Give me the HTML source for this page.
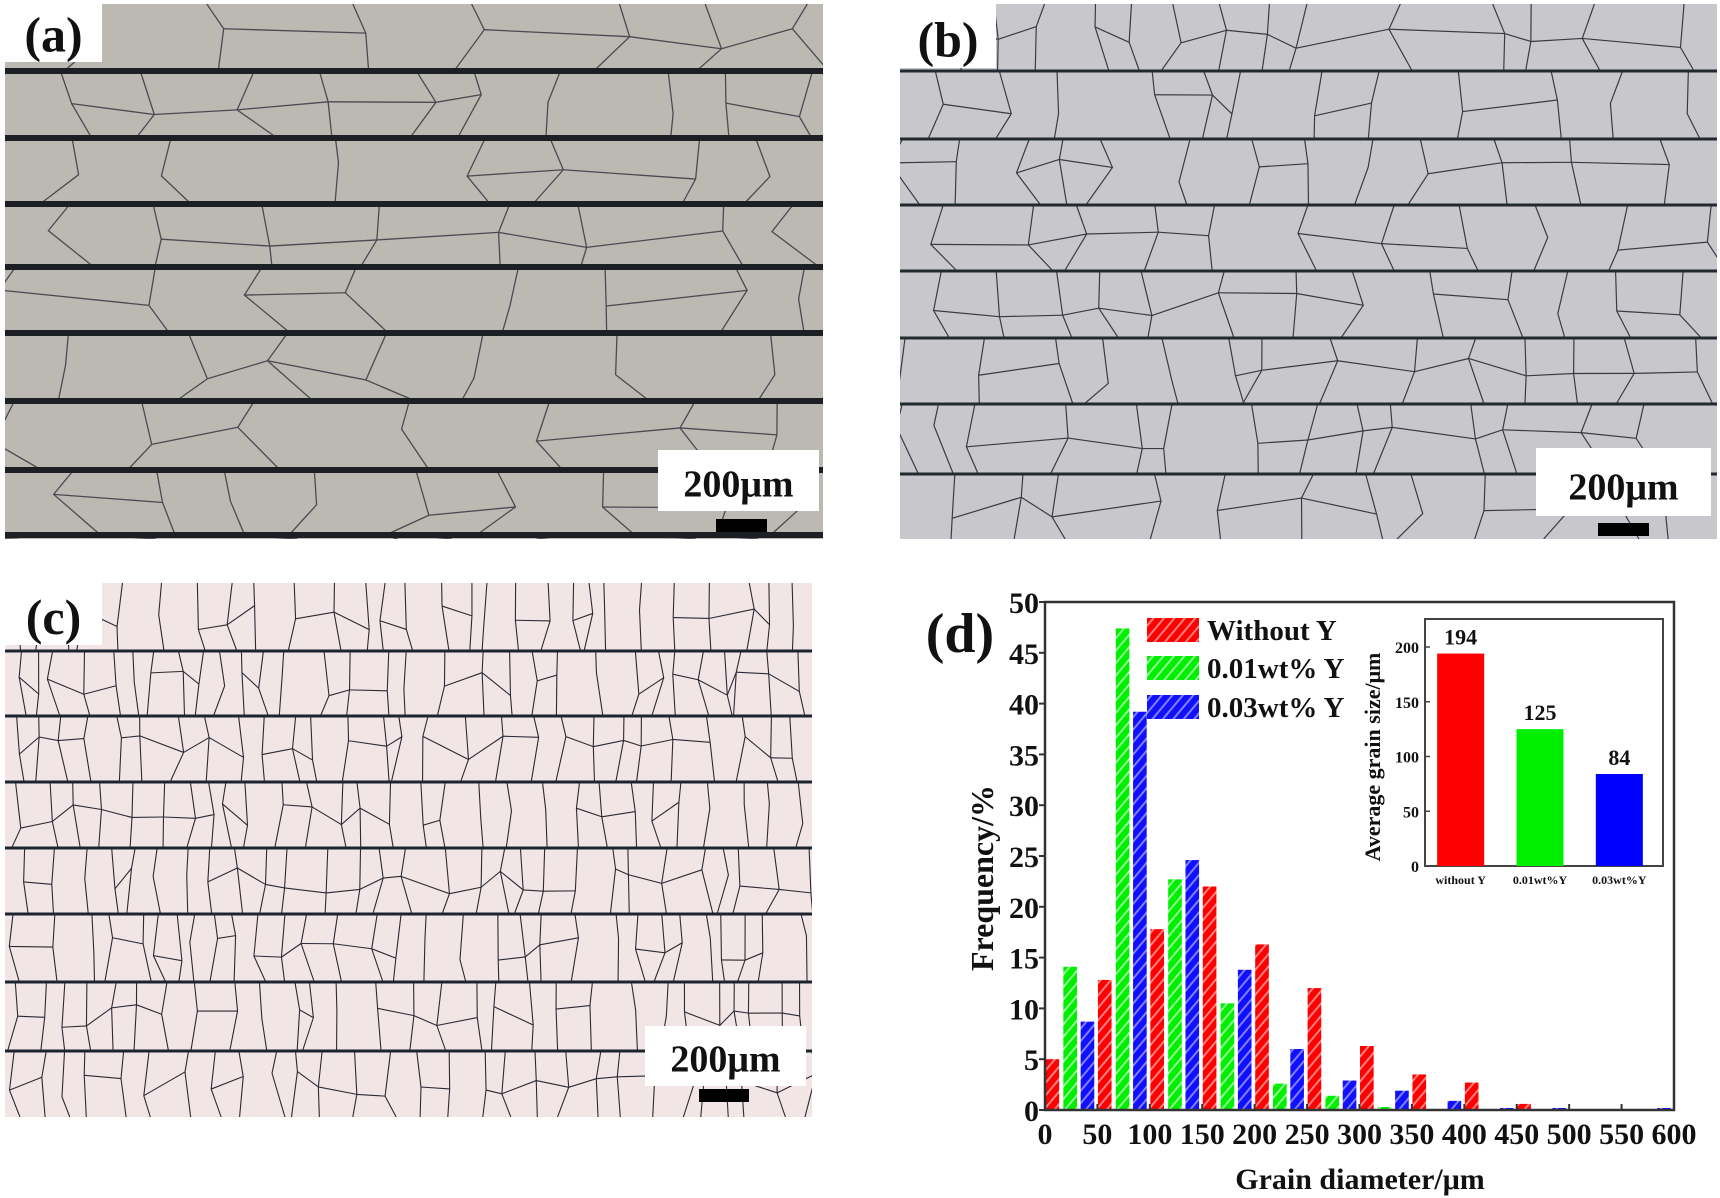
<!DOCTYPE html>
<html><head><meta charset="utf-8">
<style>
html,body{margin:0;padding:0;background:#fff;}
svg{display:block;}
text{font-family:"Liberation Serif",serif;font-weight:bold;fill:#111;}
</style></head>
<body>
<svg id="fig" width="1720" height="1198" viewBox="0 0 1720 1198" xmlns="http://www.w3.org/2000/svg">
<defs>
<pattern id="hr" patternUnits="userSpaceOnUse" width="8" height="8" patternTransform="rotate(40)"><rect width="8" height="8" fill="#ff0000"/><rect width="2" height="8" fill="#ff8080"/></pattern>
<pattern id="hg" patternUnits="userSpaceOnUse" width="8" height="8" patternTransform="rotate(40)"><rect width="8" height="8" fill="#00ee00"/><rect width="2" height="8" fill="#90ff90"/></pattern>
<pattern id="hb" patternUnits="userSpaceOnUse" width="8" height="8" patternTransform="rotate(40)"><rect width="8" height="8" fill="#1010ff"/><rect width="2" height="8" fill="#8080ff"/></pattern>
</defs>
<g id="micro"></g>
<g id="chart"></g>
<g id="inset"></g>
</svg>
<script>
// ---- histogram data ----
const binStarts = [0,50,100,150,200,250,300,350,400,450,500,550];
const freqWithoutY = [5,12.8,17.8,22,16.3,12,6.3,3.5,2.7,0.6,0,0];
const freq001Y = [14.1,47.4,22.7,10.5,2.6,1.4,0.3,0,0,0,0,0];
const freq003Y = [8.7,39.2,24.6,13.8,6,2.9,1.9,0.9,0.2,0.2,0,0.2];
const xTicks = [0,50,100,150,200,250,300,350,400,450,500,550,600];
const yTicks = [0,5,10,15,20,25,30,35,40,45,50];
const seriesNames = ["Without Y","0.01wt% Y","0.03wt% Y"];
// ---- inset data ----
const insetCats = ["without Y","0.01wt%Y","0.03wt%Y"];
const insetVals = [194,125,84];
const insetTicks = [0,50,100,150,200];

const NS="http://www.w3.org/2000/svg";
function mk(tag,attrs,parent,txt){const e=document.createElementNS(NS,tag);for(const k in attrs)e.setAttribute(k,attrs[k]);if(txt!==undefined)e.textContent=txt;parent.appendChild(e);return e;}

// ---- micrographs ----
let seed=12345;function rnd(){seed=(seed*1103515245+12345)%2147483648;return seed/2147483648;}
const micro=document.getElementById('micro');
const defs=document.querySelector('defs');
let clipN=0;
function panel(name,x0,y0,x1,y1,bg,lines,lw,lc,grain,gc,gw){
  const cid='clip'+(clipN++);
  const cp=mk('clipPath',{id:cid},defs);
  mk('rect',{x:x0,y:y0,width:x1-x0,height:y1-y0},cp);
  const g=mk('g',{'clip-path':'url(#'+cid+')'},micro);
  
  
  mk('rect',{x:x0,y:y0,width:x1-x0,height:y1-y0,fill:bg},g);
  const bounds=[y0].concat(lines).concat([y1]);
  for(let i=0;i<bounds.length-1;i++){
    const ta=bounds[i],tb=bounds[i+1];
    let x=x0+rnd()*grain;let prevMid=null;
    while(x<x1){
      const xb=x+(rnd()-0.5)*grain*0.6, my=ta+(tb-ta)*(0.3+rnd()*0.4), mx=x+(rnd()-0.5)*grain*0.4;
      mk('polyline',{points:`${x},${ta} ${mx},${my} ${xb},${tb}`,fill:'none',stroke:gc,'stroke-width':gw},g);
      if(prevMid&&rnd()<0.6){mk('line',{x1:prevMid[0],y1:prevMid[1],x2:mx,y2:my,stroke:gc,'stroke-width':gw},g);}
      prevMid=[mx,my];
      x+=grain*(0.5+rnd());
    }
  }
  lines.forEach(ly=>mk('rect',{x:x0,y:ly-lw/2,width:x1-x0,height:lw,fill:lc},g));
  return g;
}
panel('micrograph-a',5,4,823,539,'#bcb9b3',[71,138,204,267,333,401,470,535],6,'#1c2024',110,'#4a4a52',1.3);
panel('micrograph-b',900,4,1717,539,'#c8c8cc',[71,139,205,271,338,404,474],3,'#222a30',65,'#3a3a44',1.2);
panel('micrograph-c',5,583,812,1117,'#f2e5e5',[651,716,782,848,914,982,1051],3,'#1c2430',28,'#2a2a36',1.1);
function label(txt,x,y,w,h,name,fs){const g=mk('g',{},micro);
  mk('rect',{x:x,y:y,width:w,height:h,fill:'#fff'},g);mk('text',{x:x+w/2,y:y+h*0.82,'text-anchor':'middle','font-size':fs},g,txt);}
label('(a)',5,4,97,58,'panel-label-a',50);
label('(b)',900,4,96,64,'panel-label-b',50);
label('(c)',5,583,97,62,'panel-label-c',50);
function scale(x,y,w,h,bx,by,bw,name){const g=mk('g',{},micro);
  mk('rect',{x:x,y:y,width:w,height:h,fill:'#fff'},g);mk('text',{x:x+w/2,y:y+h*0.76,'text-anchor':'middle','font-size':38},g,'200μm');
  mk('rect',{x:bx,y:by,width:bw,height:13,fill:'#000'},g);}
scale(658,450,161,61,716,519,51,'scale-bar-a');
scale(1536,448,175,68,1598,523,51,'scale-bar-b');
scale(645,1026,161,60,699,1089,50,'scale-bar-c');

// ---- main chart ----
const C=document.getElementById('chart');
const L=1045,R=1674,T=602,B=1110;
const xS=v=>L+(v-0)/600*(R-L);
const yS=v=>B-v/50*(B-T);
const pats=['url(#hr)','url(#hg)','url(#hb)'];
const series=[freqWithoutY,freq001Y,freq003Y];
const offs=[0.5,17.5,34];
const bw=13;
series.forEach((arr,si)=>{
  arr.forEach((v,i)=>{
    if(v<=0)return;
    const x=xS(binStarts[i]+offs[si]);
    const r=mk('rect',{x:x,y:yS(v),width:xS(bw)-xS(0),height:yS(0)-yS(v),fill:pats[si]},C);
    
    
  });
});
mk('rect',{x:L,y:T,width:R-L,height:B-T,fill:'none',stroke:'#333','stroke-width':2.5},C);
xTicks.forEach(t=>{
  mk('line',{x1:xS(t),y1:B,x2:xS(t),y2:B-6,stroke:'#333','stroke-width':2},C);
  const tx=mk('text',{x:xS(t),y:B+34,'text-anchor':'middle','font-size':30},C,String(t));
  
  
});
yTicks.forEach(t=>{
  mk('line',{x1:L,y1:yS(t),x2:L-6,y2:yS(t),stroke:'#333','stroke-width':2},C);
  const tx=mk('text',{x:L-6,y:yS(t)+11,'text-anchor':'end','font-size':30},C,String(t));
  
  
});
const xt=mk('text',{x:1360,y:1189,'text-anchor':'middle','font-size':30},C,'Grain diameter/μm');


const yt=mk('text',{x:0,y:0,'text-anchor':'middle','font-size':32,transform:'translate(993,878) rotate(-90)'},C,'Frequency/%');


const pd=mk('text',{x:960,y:652,'text-anchor':'middle','font-size':56},C,'(d)');


const legY=[618,656,695];
seriesNames.forEach((n,i)=>{
  const g=mk('g',{},C);
  
  
  mk('rect',{x:1147,y:legY[i],width:52,height:24,fill:pats[i]},g);
  mk('text',{x:1207,y:legY[i]+22,'font-size':29},g,n);
});

// ---- inset ----
const I=document.getElementById('inset');
const iL=1425,iR=1663,iT=619,iB=866;
const iy=v=>iB-v/200*(866-647);
mk('rect',{x:iL,y:iT,width:iR-iL,height:iB-iT,fill:'#fff',stroke:'#444','stroke-width':2},I);
const cols=['#ff0000','#00ee00','#0000ff'];
const iband=(iR-iL)/3;
insetVals.forEach((v,i)=>{
  const cx=iL+iband*(i+0.5)-4;
  const r=mk('rect',{x:cx-23.5,y:iy(v),width:47,height:iB-iy(v),fill:cols[i]},I);
  
  
  mk('text',{x:cx,y:iy(v)-9,'text-anchor':'middle','font-size':22},I,String(v));
  mk('text',{x:cx,y:iB+18,'text-anchor':'middle','font-size':12},I,insetCats[i]);
});
insetTicks.forEach(t=>{
  mk('line',{x1:iL,y1:iy(t),x2:iL+5,y2:iy(t),stroke:'#444','stroke-width':1.5},I);
  mk('text',{x:iL-6,y:iy(t)+6,'text-anchor':'end','font-size':16},I,String(t));
});
const it=mk('text',{x:0,y:0,'text-anchor':'middle','font-size':22,transform:'translate(1380,757) rotate(-90)'},I,'Average grain size/μm');


</script>
</body></html>
